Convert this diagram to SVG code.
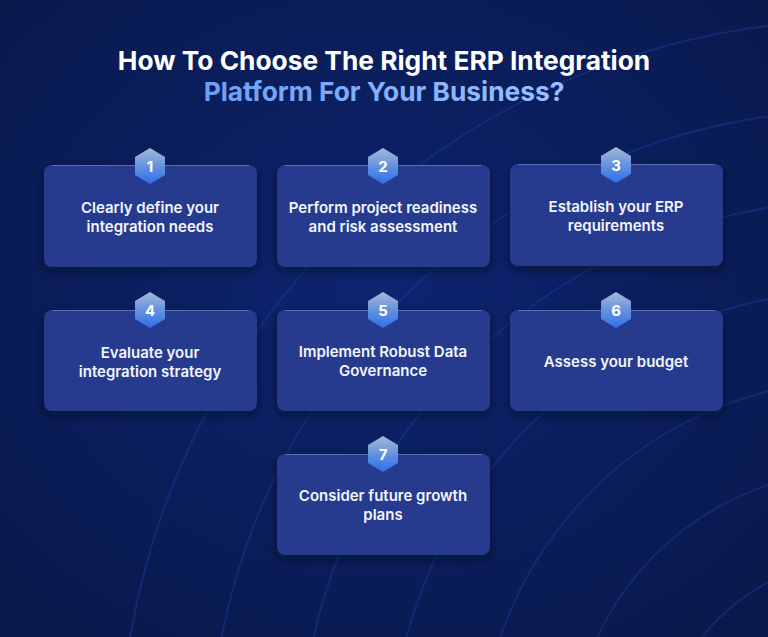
<svg xmlns="http://www.w3.org/2000/svg" width="768" height="637" viewBox="0 0 768 637">
<defs>
<radialGradient id="bg" cx="0.5" cy="0.45" r="0.75">
<stop offset="0" stop-color="#0d2470"/><stop offset="1" stop-color="#081848"/>
</radialGradient>
<linearGradient id="hex" x1="0" y1="0" x2="0" y2="1">
<stop offset="0" stop-color="#a7b9d6"/><stop offset="0.55" stop-color="#5d8fe0"/><stop offset="1" stop-color="#2f6ff0"/>
</linearGradient>
<linearGradient id="title2" x1="0" y1="0" x2="1" y2="0">
<stop offset="0" stop-color="#6aa0f5"/><stop offset="1" stop-color="#9cc0ff"/>
</linearGradient>
<filter id="sh" x="-20%" y="-20%" width="140%" height="150%">
<feDropShadow dx="0" dy="4" stdDeviation="5" flood-color="#020820" flood-opacity="0.6"/>
</filter>
<g id="badge">
<polygon points="0,-18 15,-9 15,9 0,18 -15,9 -15,-9" fill="url(#hex)"/>
</g>
</defs>
<style>
.card{fill:#253b8e;}
.edge{stroke:#6f86c8;stroke-width:1.2;opacity:0.7}
.t{font-family:Inter,"Liberation Sans",sans-serif;font-size:15px;font-weight:600;fill:#f2f5ff;text-anchor:middle}
.n{font-family:Inter,"Liberation Sans",sans-serif;font-size:15px;font-weight:700;fill:#ffffff;text-anchor:middle}
.arc{fill:none;stroke:#1a3590;stroke-width:2;opacity:0.55}
</style>
<rect width="768" height="637" fill="url(#bg)"/>
<g id="arcs">
<circle class="arc" cx="860" cy="760" r="200"/>
<circle class="arc" cx="860" cy="760" r="290"/>
<circle class="arc" cx="860" cy="760" r="380"/>
<circle class="arc" cx="860" cy="760" r="470"/>
<circle class="arc" cx="860" cy="760" r="560"/>
<circle class="arc" cx="860" cy="760" r="650"/>
<circle class="arc" cx="860" cy="760" r="740"/>
</g>
<g id="title" font-family="Inter,'Liberation Sans',sans-serif" font-size="26.3" font-weight="700" text-anchor="middle">
<text x="384" y="70" fill="#ffffff">How To Choose The Right ERP Integration</text>
<text x="384" y="101" fill="url(#title2)">Platform For Your Business?</text>
</g>
<g id="connectors"/>
<g id="node1"><rect class="card" x="44" y="165" width="213" height="102" rx="8" filter="url(#sh)"/><line class="edge" x1="52" y1="165.5" x2="249" y2="165.5"/><use href="#badge" x="150" y="166"/><text class="n" x="150" y="172">1</text><text class="t" x="150" y="213">Clearly define your</text><text class="t" x="150" y="232">integration needs</text></g>
<g id="node2"><rect class="card" x="277" y="165" width="213" height="102" rx="8" filter="url(#sh)"/><line class="edge" x1="285" y1="165.5" x2="482" y2="165.5"/><use href="#badge" x="383" y="166"/><text class="n" x="383" y="172">2</text><text class="t" x="383" y="213">Perform project readiness</text><text class="t" x="383" y="232">and risk assessment</text></g>
<g id="node3"><rect class="card" x="510" y="164" width="213" height="102" rx="8" filter="url(#sh)"/><line class="edge" x1="518" y1="164.5" x2="715" y2="164.5"/><use href="#badge" x="616" y="165"/><text class="n" x="616" y="171">3</text><text class="t" x="616" y="212">Establish your ERP</text><text class="t" x="616" y="231">requirements</text></g>
<g id="node4"><rect class="card" x="44" y="310" width="213" height="101" rx="8" filter="url(#sh)"/><line class="edge" x1="52" y1="310.5" x2="249" y2="310.5"/><use href="#badge" x="150" y="310"/><text class="n" x="150" y="316">4</text><text class="t" x="150" y="358">Evaluate your</text><text class="t" x="150" y="377">integration strategy</text></g>
<g id="node5"><rect class="card" x="277" y="310" width="213" height="101" rx="8" filter="url(#sh)"/><line class="edge" x1="285" y1="310.5" x2="482" y2="310.5"/><use href="#badge" x="383" y="310"/><text class="n" x="383" y="316">5</text><text class="t" x="383" y="357">Implement Robust Data</text><text class="t" x="383" y="376">Governance</text></g>
<g id="node6"><rect class="card" x="510" y="310" width="213" height="101" rx="8" filter="url(#sh)"/><line class="edge" x1="518" y1="310.5" x2="715" y2="310.5"/><use href="#badge" x="616" y="310"/><text class="n" x="616" y="316">6</text><text class="t" x="616" y="367">Assess your budget</text></g>
<g id="node7"><rect class="card" x="277" y="454" width="213" height="101" rx="8" filter="url(#sh)"/><line class="edge" x1="285" y1="454.5" x2="482" y2="454.5"/><use href="#badge" x="383" y="454"/><text class="n" x="383" y="460">7</text><text class="t" x="383" y="501">Consider future growth</text><text class="t" x="383" y="520">plans</text></g>
</svg>
